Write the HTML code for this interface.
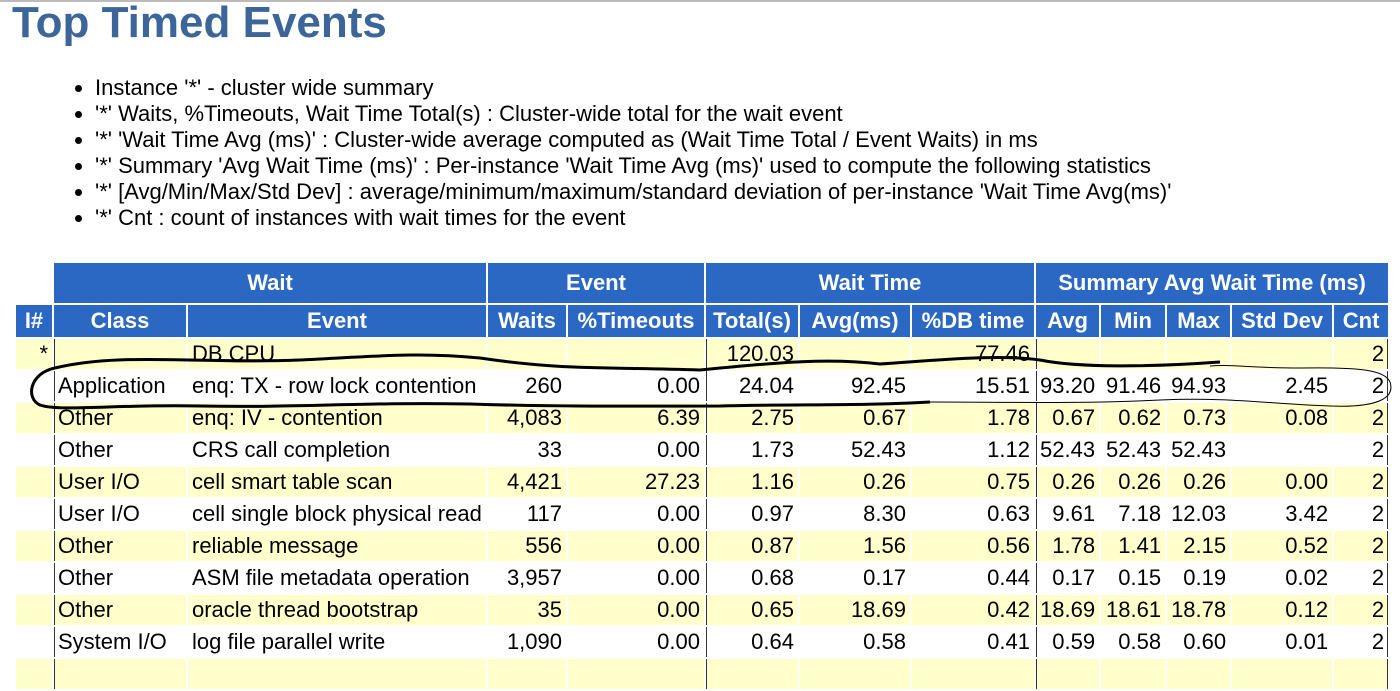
<!DOCTYPE html>
<html><head><meta charset="utf-8"><style>
body{margin:0;width:1400px;height:664px;overflow:hidden;background:#fff;font-family:"Liberation Sans",Arial,sans-serif;position:relative}
.top{position:absolute;left:0;top:0;width:1400px;height:2px;background:#bbb}
h1{position:absolute;left:12px;top:-2px;margin:0;font-size:44px;color:#3c6699;font-weight:bold}
ul{position:absolute;left:55px;top:75px;margin:0;padding-left:40px;font-size:22px;line-height:26px;color:#000}
table{position:absolute;left:14px;top:261px;border-collapse:separate;border-spacing:2px;table-layout:fixed;font-size:22px}
td,th{padding:0 4px;white-space:nowrap;overflow:hidden}
th{background:#2b68c4;color:#fff;font-weight:bold;text-align:center}
tr.g th{height:40px}
tr.h th{height:32px}
td{height:30px;text-align:right}
tr.y td{background:#ffffcc}
td.l{text-align:left}
.b{box-shadow:inset 1px 0 0 #333}
.rb{box-shadow:inset -1px 0 0 #333}
svg{position:absolute;left:0;top:0}
</style></head><body>
<div class="top"></div>
<h1>Top Timed Events</h1>
<ul>
<li>Instance '*' - cluster wide summary</li>
<li>'*' Waits, %Timeouts, Wait Time Total(s) : Cluster-wide total for the wait event</li>
<li>'*' 'Wait Time Avg (ms)' : Cluster-wide average computed as (Wait Time Total / Event Waits) in ms</li>
<li>'*' Summary 'Avg Wait Time (ms)' : Per-instance 'Wait Time Avg (ms)' used to compute the following statistics</li>
<li>'*' [Avg/Min/Max/Std Dev] : average/minimum/maximum/standard deviation of per-instance 'Wait Time Avg(ms)'</li>
<li>'*' Cnt : count of instances with wait times for the event</li>
</ul>
<table>
<colgroup><col style="width:36px"><col style="width:132px"><col style="width:298px"><col style="width:78px"><col style="width:136px"><col style="width:92px"><col style="width:110px"><col style="width:122px"><col style="width:62px"><col style="width:64px"><col style="width:62px"><col style="width:100px"><col style="width:54px"></colgroup>
<tr class="g"><th style="background:#fff"></th><th colspan="2">Wait</th><th colspan="2">Event</th><th colspan="3">Wait Time</th><th colspan="5">Summary Avg Wait Time (ms)</th></tr>
<tr class="h"><th>I#</th><th>Class</th><th>Event</th><th>Waits</th><th>%Timeouts</th><th>Total(s)</th><th>Avg(ms)</th><th>%DB time</th><th>Avg</th><th>Min</th><th>Max</th><th>Std Dev</th><th>Cnt</th></tr>
<tr class="y"><td>*</td><td class="l b"></td><td class="l">DB CPU</td><td></td><td></td><td class="b">120.03</td><td></td><td>77.46</td><td class="b"></td><td></td><td></td><td></td><td class="rb">2</td></tr>
<tr><td></td><td class="l b">Application</td><td class="l">enq: TX - row lock contention</td><td>260</td><td>0.00</td><td class="b">24.04</td><td>92.45</td><td>15.51</td><td class="b">93.20</td><td>91.46</td><td>94.93</td><td>2.45</td><td class="rb">2</td></tr>
<tr class="y"><td></td><td class="l b">Other</td><td class="l">enq: IV - contention</td><td>4,083</td><td>6.39</td><td class="b">2.75</td><td>0.67</td><td>1.78</td><td class="b">0.67</td><td>0.62</td><td>0.73</td><td>0.08</td><td class="rb">2</td></tr>
<tr><td></td><td class="l b">Other</td><td class="l">CRS call completion</td><td>33</td><td>0.00</td><td class="b">1.73</td><td>52.43</td><td>1.12</td><td class="b">52.43</td><td>52.43</td><td>52.43</td><td></td><td class="rb">2</td></tr>
<tr class="y"><td></td><td class="l b">User I/O</td><td class="l">cell smart table scan</td><td>4,421</td><td>27.23</td><td class="b">1.16</td><td>0.26</td><td>0.75</td><td class="b">0.26</td><td>0.26</td><td>0.26</td><td>0.00</td><td class="rb">2</td></tr>
<tr><td></td><td class="l b">User I/O</td><td class="l">cell single block physical read</td><td>117</td><td>0.00</td><td class="b">0.97</td><td>8.30</td><td>0.63</td><td class="b">9.61</td><td>7.18</td><td>12.03</td><td>3.42</td><td class="rb">2</td></tr>
<tr class="y"><td></td><td class="l b">Other</td><td class="l">reliable message</td><td>556</td><td>0.00</td><td class="b">0.87</td><td>1.56</td><td>0.56</td><td class="b">1.78</td><td>1.41</td><td>2.15</td><td>0.52</td><td class="rb">2</td></tr>
<tr><td></td><td class="l b">Other</td><td class="l">ASM file metadata operation</td><td>3,957</td><td>0.00</td><td class="b">0.68</td><td>0.17</td><td>0.44</td><td class="b">0.17</td><td>0.15</td><td>0.19</td><td>0.02</td><td class="rb">2</td></tr>
<tr class="y"><td></td><td class="l b">Other</td><td class="l">oracle thread bootstrap</td><td>35</td><td>0.00</td><td class="b">0.65</td><td>18.69</td><td>0.42</td><td class="b">18.69</td><td>18.61</td><td>18.78</td><td>0.12</td><td class="rb">2</td></tr>
<tr><td></td><td class="l b">System I/O</td><td class="l">log file parallel write</td><td>1,090</td><td>0.00</td><td class="b">0.64</td><td>0.58</td><td>0.41</td><td class="b">0.59</td><td>0.58</td><td>0.60</td><td>0.01</td><td class="rb">2</td></tr>
<tr class="y"><td></td><td class="l b"></td><td class="l"></td><td></td><td></td><td class="b"></td><td></td><td></td><td class="b"></td><td></td><td></td><td></td><td class="rb"></td></tr>
</table>
<svg width="1400" height="664">
<path d="M55,368 C120,352 200,364 300,360 C380,356 420,352 480,358 C560,370 600,367 700,370 C780,362 830,358 880,364 C940,360 1000,354 1040,360 C1080,368 1150,367 1220,362" fill="none" stroke="#000" stroke-width="3"/>
<path d="M55,368 C30,373 25,398 40,405 C60,412 120,404 200,406 C300,408 360,402 470,404 C560,407 650,406 720,406 C800,404 860,406 930,402" fill="none" stroke="#000" stroke-width="3"/>
<path d="M930,402 C1000,402 1080,404 1160,400 C1230,397 1270,404 1330,406 C1380,408 1395,397 1390,382 C1385,370 1360,367 1300,368 C1250,368 1230,364 1210,366" fill="none" stroke="#000" stroke-width="1"/>
</svg>
</body></html>
